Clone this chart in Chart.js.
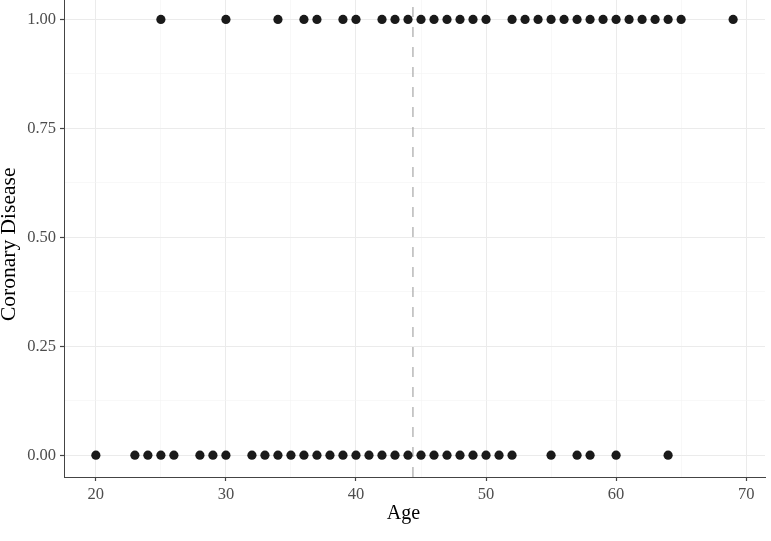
<!DOCTYPE html>
<html>
<head>
<meta charset="utf-8">
<script src="https://cdn.jsdelivr.net/npm/chart.js"></script>
<style>
  html, body { margin: 0; padding: 0; background: #fff; overflow: hidden; }
  #wrap { position: absolute; left: 0; top: -7px; width: 771px; height: 548px; }
</style>
</head>
<body>
<div id="wrap">
  <canvas id="myChart"></canvas>
</div>

<script>
// ages of people with coronary disease (1) and without (0)
const agesCHD = [25, 30, 34, 36, 37, 39, 40, 42, 43, 44, 45, 46, 47, 48, 49, 50,
  52, 53, 54, 55, 56, 57, 58, 59, 60, 61, 62, 63, 64, 65, 69];
const agesNoCHD = [20, 23, 24, 25, 26, 28, 29, 30, 32, 33, 34, 35, 36, 37, 38, 39,
  40, 41, 42, 43, 44, 45, 46, 47, 48, 49, 50, 51, 52, 55, 57, 58, 60, 64];
const meanAge = 44.38;

const xTicks = [20, 25, 30, 35, 40, 45, 50, 55, 60, 65, 70];
const yTicks = [0, 0.125, 0.25, 0.375, 0.5, 0.625, 0.75, 0.875, 1];

const serif = "'Liberation Serif', 'DejaVu Serif', serif";

const points = agesNoCHD.map(a => ({x: a, y: 0}))
  .concat(agesCHD.map(a => ({x: a, y: 1})));

const isMajorX = v => v % 10 === 0;
const isMajorY = v => Math.abs(v * 4 - Math.round(v * 4)) < 1e-9;

// dashed line at the mean age + axis titles
const extras = {
  id: 'extras',
  beforeDatasetsDraw(chart) {
    const ctx = chart.ctx, area = chart.chartArea;
    const x = chart.scales.x.getPixelForValue(meanAge);
    ctx.save();
    ctx.strokeStyle = '#a6a6a6';
    ctx.lineWidth = 1.2;
    ctx.setLineDash([10, 10]);
    ctx.beginPath();
    ctx.moveTo(x, area.bottom);
    ctx.lineTo(x, area.top);
    ctx.stroke();
    ctx.restore();
  },
  afterDraw(chart) {
    const ctx = chart.ctx, area = chart.chartArea;
    ctx.save();
    ctx.fillStyle = '#000';
    ctx.font = '20px ' + serif;
    ctx.textAlign = 'center';
    ctx.textBaseline = 'middle';
    ctx.fillText('Age', (area.left + area.right) / 2 - 11, area.bottom + 37);
    ctx.font = '21.5px ' + serif;
    ctx.translate(9, (area.top + area.bottom) / 2 + 7);
    ctx.rotate(-Math.PI / 2);
    ctx.fillText('Coronary Disease', 0, 0);
    ctx.restore();
  }
};

const config = {
  type: 'scatter',
  data: {
    datasets: [{
      data: points,
      backgroundColor: '#1a1a1a',
      borderColor: '#1a1a1a',
      borderWidth: 0,
      pointRadius: 4.6,
      pointHoverRadius: 4.6
    }]
  },
  options: {
    responsive: true,
    maintainAspectRatio: false,
    animation: false,
    layout: { padding: { top: 0, right: 6, left: 0, bottom: 0 } },
    plugins: { legend: { display: false }, tooltip: { enabled: false } },
    scales: {
      x: {
        type: 'linear',
        min: 17.55,
        max: 71.45,
        afterBuildTicks: s => { s.ticks = xTicks.map(v => ({value: v})); },
        afterFit: s => { s.height = 64; s.paddingLeft = 0; s.paddingRight = 0; },
        border: { display: true, color: '#444', width: 1 },
        grid: {
          color: c => isMajorX(c.tick.value) ? '#ebebeb' : '#f3f3f3',
          lineWidth: c => isMajorX(c.tick.value) ? 1 : 0.6,
          tickColor: c => isMajorX(c.tick.value) ? '#444' : 'rgba(0,0,0,0)',
          tickLength: 4,
          tickWidth: 1.2
        },
        ticks: {
          autoSkip: false,
          maxRotation: 0,
          padding: 4,
          color: '#4d4d4d',
          font: { family: serif, size: 16.5 },
          callback: v => isMajorX(v) ? String(v) : ''
        }
      },
      y: {
        type: 'linear',
        min: -0.05,
        max: 1.05,
        afterBuildTicks: s => { s.ticks = yTicks.map(v => ({value: v})); },
        afterFit: s => { s.width = 64; s.paddingTop = 0; s.paddingBottom = 0; },
        border: { display: true, color: '#444', width: 1 },
        grid: {
          color: c => isMajorY(c.tick.value) ? '#ebebeb' : '#f3f3f3',
          lineWidth: c => isMajorY(c.tick.value) ? 1 : 0.6,
          tickColor: c => isMajorY(c.tick.value) ? '#444' : 'rgba(0,0,0,0)',
          tickLength: 4,
          tickWidth: 1.2
        },
        ticks: {
          autoSkip: false,
          padding: 4,
          color: '#4d4d4d',
          font: { family: serif, size: 16.5 },
          callback: v => isMajorY(v) ? v.toFixed(2) : ''
        }
      }
    }
  },
  plugins: [extras]
};

var myChart = new Chart(document.getElementById('myChart'), config);
</script>
</body>
</html>
